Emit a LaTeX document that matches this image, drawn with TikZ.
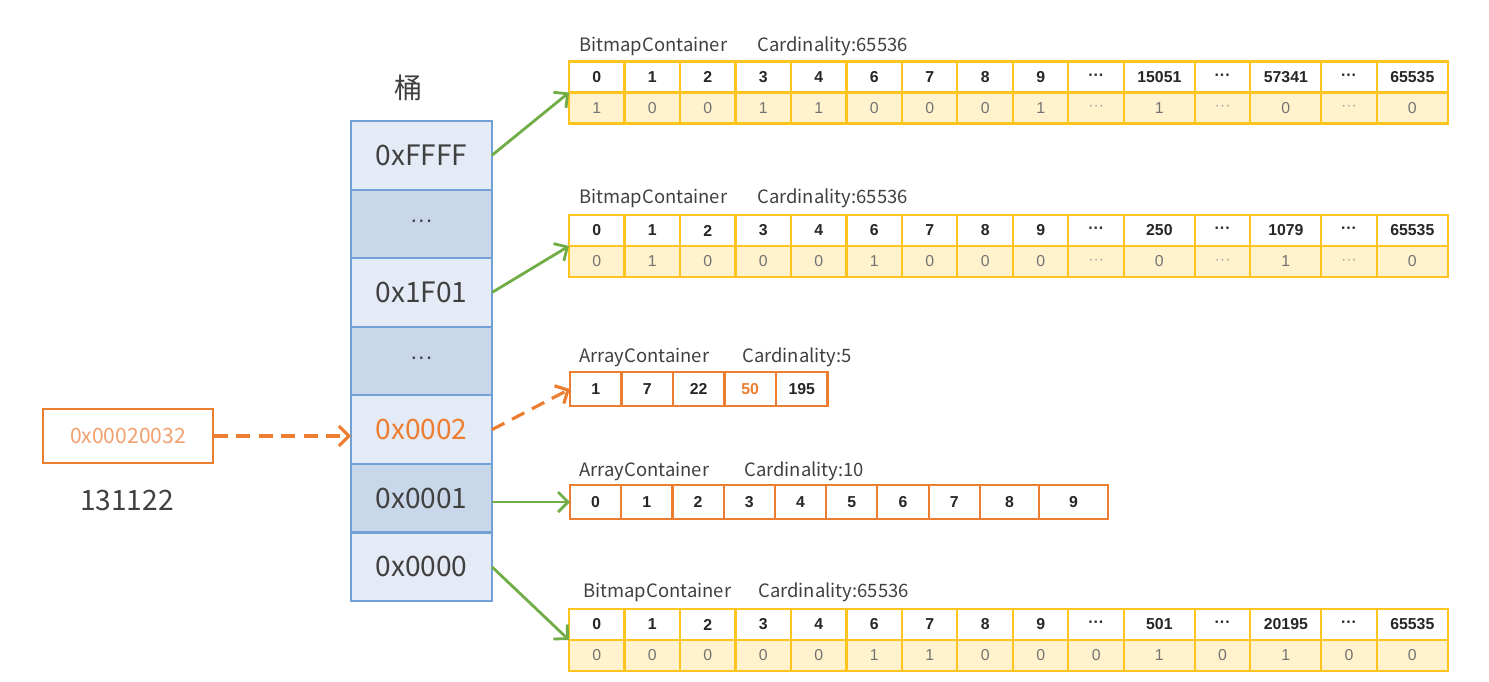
\documentclass[tikz,border=0pt]{standalone}
\usepackage{fontspec}
\setmainfont{Noto Sans CJK SC}
\newfontfamily\cellfont{Liberation Sans}
\usetikzlibrary{positioning,arrows.meta}

\definecolor{bucketline}{RGB}{116,161,213}
\definecolor{bucketlight}{RGB}{229,235,246}
\definecolor{bucketdark}{RGB}{201,215,234}
\definecolor{hitorange}{RGB}{237,125,49}
\definecolor{keyorange}{RGB}{241,160,110}
\definecolor{linkgreen}{RGB}{112,173,71}
\definecolor{bitline}{RGB}{255,196,30}
\definecolor{bitfill}{RGB}{255,242,204}
\definecolor{textgray}{RGB}{64,64,64}

\newcommand\etcdots{···}
\newcommand\lightdots{\textcolor{black!35}{···}}

\begin{document}
\begin{tikzpicture}[x=0.02cm, y=-0.02cm,
  bucket/.style={draw=bucketline, line width=1.2pt, minimum width=2.82cm, minimum height=1.372cm, inner sep=0pt, outer sep=0pt, text=textgray, font=\fontsize{16}{18}\selectfont},
  light/.style={fill=bucketlight},
  dark/.style={fill=bucketdark},
  headcell/.style={draw=bitline, line width=1.2pt, fill=white, minimum height=0.62cm, inner sep=0pt, outer sep=0pt, font=\cellfont\bfseries\fontsize{9}{10}\selectfont, text=black!85},
  valcell/.style={headcell, fill=bitfill, font=\cellfont\fontsize{9}{10}\selectfont, text=black!55},
  arrcell/.style={draw=hitorange, line width=1.2pt, fill=white, minimum height=0.68cm, inner sep=0pt, outer sep=0pt, font=\cellfont\bfseries\fontsize{9}{10}\selectfont, text=black!85},
  caption/.style={anchor=west, inner sep=0pt, text=textgray, font=\fontsize{10.5}{12}\selectfont},
  link/.style={draw=linkgreen, line width=1.6pt, -{Straight Barb[length=2mm,width=4mm]}},
  hit/.style={link, draw=hitorange, line width=1.8pt, dash pattern=on 0.28cm off 0.17cm}
]
\useasboundingbox (0,0) rectangle (1489,681);

% buckets
\node[bucket, light] (b6) at (421.5,155.3) {0xFFFF};
\node[bucket, dark, below=0pt of b6, font=\cellfont\fontsize{13}{14}\selectfont] (b5) {\etcdots};
\node[bucket, light, below=0pt of b5] (b4) {0x1F01};
\node[bucket, dark, below=0pt of b4, font=\cellfont\fontsize{13}{14}\selectfont] (b3) {\etcdots};
\node[bucket, light, below=0pt of b3, text=hitorange] (b2) {0x0002};
\node[bucket, dark, below=0pt of b2] (b1) {0x0001};
\node[bucket, light, below=0pt of b1] (b0) {0x0000};
\node[text=textgray, font=\fontsize{16}{18}\selectfont] (tong) at (409,88) {桶};

\node[draw=hitorange, line width=1pt, minimum width=3.4cm, minimum height=1.08cm, text=keyorange, font=\fontsize{12}{14}\selectfont] (key) at (128,436) {0x00020032};
\node[text=textgray, font=\fontsize{16}{18}\selectfont] (dec) at (127,500) {131122};

% bitmap 0xFFFF
\node[caption] (tcap) at (579,46) {BitmapContainer};
\node[caption] (tcard) at (757,46) {Cardinality:65536};
\coordinate (t0) at (569,77);
\foreach \h/\v/\w [count=\i, remember=\i as \j (initially 0)] in {0/1/1.11,1/0/1.11,2/0/1.11,3/1/1.11,4/1/1.11,6/0/1.11,7/0/1.11,8/0/1.11,9/1/1.11,\etcdots/\lightdots/1.11,15051/1/1.42,\etcdots/\lightdots/1.11,57341/0/1.42,\etcdots/\lightdots/1.11,65535/0/1.42}
{
  \node[headcell, minimum width=\w cm, right=0pt of t\j] (t\i) {\h};
  \node[valcell, minimum width=\w cm, below=0pt of t\i] (tv\i) {\v};
}

% bitmap 0x1F01
\node[caption] (scap) at (579,198) {BitmapContainer};
\node[caption] (scard) at (757,198) {Cardinality:65536};
\coordinate (s0) at (569,230.5);
\foreach \h/\v/\w [count=\i, remember=\i as \j (initially 0)] in {0/0/1.11,1/1/1.11,2/0/1.11,3/0/1.11,4/0/1.11,6/1/1.11,7/0/1.11,8/0/1.11,9/0/1.11,\etcdots/\lightdots/1.11,250/0/1.42,\etcdots/\lightdots/1.11,1079/1/1.42,\etcdots/\lightdots/1.11,65535/0/1.42}
{
  \node[headcell, minimum width=\w cm, right=0pt of s\j] (s\i) {\h};
  \node[valcell, minimum width=\w cm, below=0pt of s\i] (sv\i) {\v};
}

% array 0x0002
\node[caption] (acap) at (579,357) {ArrayContainer};
\node[caption] (acard) at (742,357) {Cardinality:5};
\coordinate (a0) at (570,389);
\foreach \v [count=\i, remember=\i as \j (initially 0)] in {1,7,22,\textcolor{hitorange}{50},195}
  \node[arrcell, minimum width=1.03cm, right=0pt of a\j] (a\i) {\v};

% array 0x0001
\node[caption] (ecap) at (579,471) {ArrayContainer};
\node[caption] (ecard) at (744,471) {Cardinality:10};
\coordinate (e0) at (570,502);
\foreach \v/\w [count=\i, remember=\i as \j (initially 0)] in {0/1.025,1/1.025,2/1.025,3/1.025,4/1.025,5/1.025,6/1.025,7/1.025,8/1.18,9/1.38}
  \node[arrcell, minimum width=\w cm, right=0pt of e\j] (e\i) {\v};

% bitmap 0x0000
\node[caption] (zcap) at (583,592) {BitmapContainer};
\node[caption] (zcard) at (758,592) {Cardinality:65536};
\coordinate (z0) at (569,624.5);
\foreach \h/\v/\w [count=\i, remember=\i as \j (initially 0)] in {0/0/1.11,1/0/1.11,2/0/1.11,3/0/1.11,4/0/1.11,6/1/1.11,7/1/1.11,8/0/1.11,9/0/1.11,\etcdots/0/1.11,501/1/1.42,\etcdots/0/1.11,20195/1/1.42,\etcdots/0/1.11,65535/0/1.42}
{
  \node[headcell, minimum width=\w cm, right=0pt of z\j] (z\i) {\h};
  \node[valcell, minimum width=\w cm, below=0pt of z\i] (zv\i) {\v};
}

\draw[link] (b6.east) -- (t1.south west);
\draw[link] (b4.east) -- (s1.south west);
\draw[hit] (b2.east) -- (a1.west);
\draw[link] (b1.east |- e1.west) -- (e1.west);
\draw[link] (b0.east) -- (z1.south west);
\draw[hit] (key.east) -- (b2.west |- key.east);
\end{tikzpicture}
\end{document}
